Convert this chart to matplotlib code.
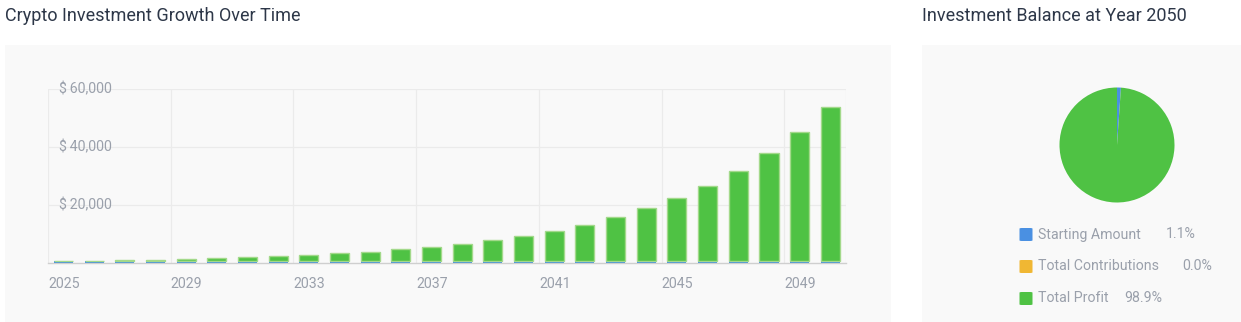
import matplotlib
matplotlib.use("Agg")
import matplotlib.pyplot as plt
from matplotlib.patches import Rectangle, FancyBboxPatch

# ---- data --------------------------------------------------------------------
years = list(range(2025, 2051))
total_balance = [700, 830, 990, 1170, 1400, 1660, 1980, 2350, 2800, 3330,
                 3960, 4710, 5600, 6600, 7850, 9400, 11100, 13250, 15850, 18850,
                 22400, 26650, 31800, 37900, 45200, 53700]
starting_amount = 590
contributions = [0] * len(years)

y_ticks = [20000, 40000, 60000]
year_ticks = [2025, 2029, 2033, 2037, 2041, 2045, 2049]

legend_names = ["Starting Amount", "Total Contributions", "Total Profit"]
colors = ["#4a90e2", "#f0b733", "#4fc244"]

# ---- styling -------------------------------------------------------------------
plt.rcParams["font.family"] = ["Roboto", "DejaVu Sans"]
W, H = 1241, 322
TICK = "#9aa0ab"
TITLE = "#2d3748"
PANEL = "#f9f9f9"

fig = plt.figure(figsize=(W / 100, H / 100), dpi=100)
fig.patch.set_facecolor("white")


def fx(px):
    return px / W


def fy(py):
    return 1 - py / H


# panel backgrounds (behind the axes)
fig.patches.append(Rectangle((fx(5), 0), fx(891) - fx(5), fy(45), transform=fig.transFigure,
                             facecolor=PANEL, edgecolor="none", zorder=-5))
fig.patches.append(Rectangle((fx(922), 0), 1 - fx(922), fy(45), transform=fig.transFigure,
                             facecolor=PANEL, edgecolor="none", zorder=-5))

fig.text(fx(5), fy(16), "Crypto Investment Growth Over Time", fontsize=13, color=TITLE,
         ha="left", va="center")
fig.text(fx(922), fy(16), "Investment Balance at Year 2050", fontsize=13, color=TITLE,
         ha="left", va="center")

# ---- bar chart -----------------------------------------------------------------
ax = fig.add_axes([fx(48), fy(263), fx(845.7) - fx(48), fy(89) - fy(263)])
ax.set_facecolor(PANEL)
x = list(range(len(years)))
start_vals = [starting_amount] * len(years)
profit = [t - starting_amount - c for t, c in zip(total_balance, contributions)]
bw = 0.62
ax.bar(x, start_vals, width=bw, color=colors[0], zorder=3)
ax.bar(x, contributions, width=bw, bottom=start_vals, color=colors[1], zorder=3)
ax.bar(x, profit, width=bw, bottom=[s + c for s, c in zip(start_vals, contributions)],
       color=colors[2], edgecolor="#a3d98b", linewidth=1.0, zorder=3)

ax.set_xlim(-0.5, len(years) - 0.5)
ax.set_ylim(0, 60000)
for s in ["top", "left", "right"]:
    ax.spines[s].set_visible(False)
ax.spines["bottom"].set_color("#cfcfcf")
ax.spines["bottom"].set_linewidth(1.0)
ax.set_xticks([])
ax.set_yticks([])

grid_kw = dict(color="#ebebeb", linewidth=0.9, zorder=1)
for v in y_ticks:
    ax.axhline(v, **grid_kw)
    ax.text(11 / (845.7 - 48) * len(years) - 0.5, v, f"$\u2009{v:,}", fontsize=10.2, color=TICK,
            ha="left", va="center", zorder=2)
for yr in year_ticks:
    xpos = years.index(yr) - 0.5
    ax.axvline(xpos, **grid_kw)
    ax.text(xpos, -4700, str(yr), fontsize=10.2, color=TICK, ha="left", va="top",
            clip_on=False)
ax.axvline(len(years) - 0.5, **grid_kw)

# ---- pie chart -----------------------------------------------------------------
pie_vals = [starting_amount, contributions[-1], total_balance[-1] - starting_amount - contributions[-1]]
pax = fig.add_axes([fx(1059.5), fy(202.5), fx(115), 115 / H])
pax.pie(pie_vals, colors=colors, startangle=90, counterclock=False,
        wedgeprops=dict(edgecolor="none"))
pax.set_xlim(-1, 1)
pax.set_ylim(-1, 1)
pax.set_aspect("equal")

total = sum(pie_vals)
rows_y = [234.5, 266.5, 298.5]
pct_x = [1166, 1182, 1124]
for name, val, col, ry, px in zip(legend_names, pie_vals, colors, rows_y, pct_x):
    fig.patches.append(FancyBboxPatch((fx(1019.5), fy(ry + 6.5)), fx(13), 13 / H,
                                      boxstyle="round,pad=0,rounding_size=0.002",
                                      transform=fig.transFigure, facecolor=col,
                                      edgecolor="none", zorder=3))
    fig.text(fx(1038), fy(ry), name, fontsize=10.2, color=TICK, ha="left", va="center")
    fig.text(fx(px), fy(ry), f"{val / total * 100:.1f}%", fontsize=10.2, color=TICK,
             ha="left", va="center")

fig.savefig("out.png", dpi=100, facecolor="white")
